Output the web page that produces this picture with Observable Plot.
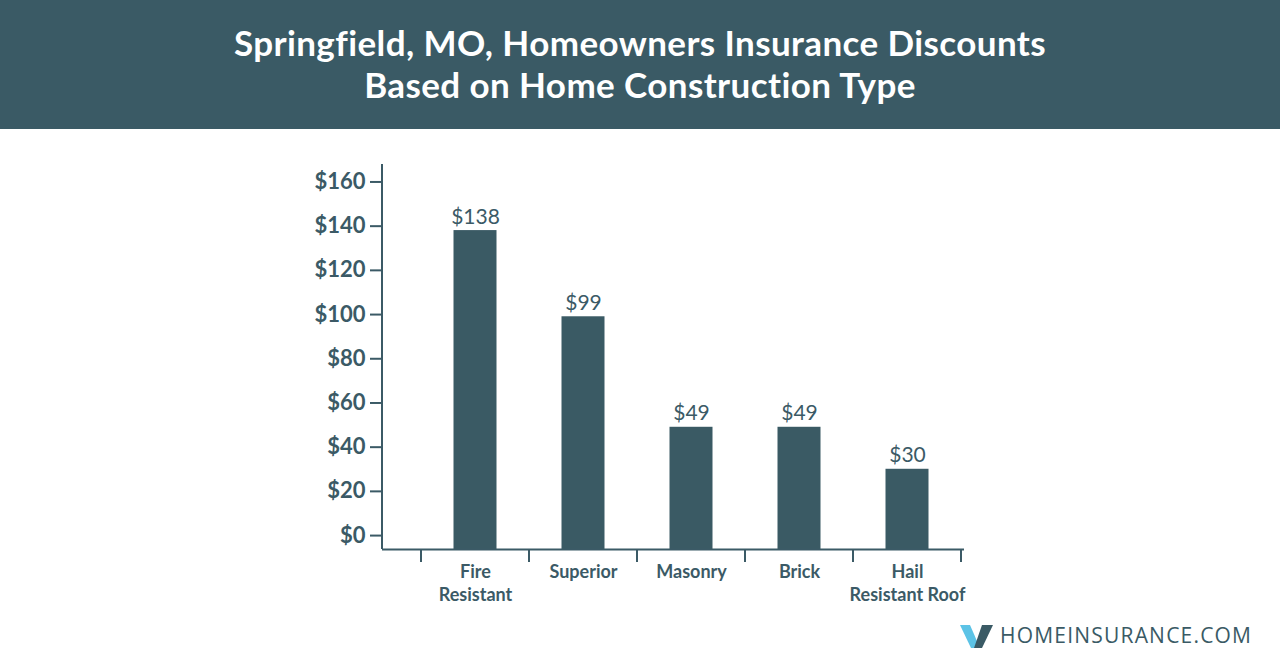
<!DOCTYPE html>
<html>
<head>
<meta charset="utf-8">
<script src="https://cdn.jsdelivr.net/npm/d3@7"></script>
<script src="https://cdn.jsdelivr.net/npm/@observablehq/plot@0.6"></script>
<style>
  html, body { margin: 0; padding: 0; background: #ffffff; width: 1280px; height: 671px; overflow: hidden; position: relative; }
  #header { position: absolute; left: 0; top: 0; width: 1280px; height: 129px; background: #3a5a65; }
  #title { position: absolute; left: 0; top: 21px; width: 1280px; text-align: center; color: #ffffff;
           font-family: Lato, sans-serif; font-weight: 700; font-size: 35px; letter-spacing: 0.4px; line-height: 42px; }
  #chart { position: absolute; left: 0; top: 129px; }
  #logo { position: absolute; left: 958px; top: 620px; height: 30px; width: 320px; }
  #logo svg { position: absolute; left: 0; top: 2px; }
  #logo span { position: absolute; left: 42px; top: 1px; font-family: "Open Sans", sans-serif; font-weight: 400;
               font-size: 21px; letter-spacing: 1.2px; color: #3a5a65; white-space: nowrap; }
</style>
</head>
<body>
<div id="header"><div id="title">Springfield, MO, Homeowners Insurance Discounts<br>Based on Home Construction Type</div></div>
<div id="chart"></div>
<div id="logo">
  <svg width="36" height="28" viewBox="0 0 36 28">
    <polygon points="2,3 12,3 22,26 13,26" fill="#5cc3e6"></polygon>
    <polygon points="24,3 35,3 24,26 16,26" fill="#3a5a65"></polygon>
  </svg>
  <span>HOMEINSURANCE.COM</span>
</div>
<script>
const categories = ["Fire Resistant", "Superior", "Masonry", "Brick", "Hail Resistant Roof"];
const tickLabels = ["Fire\nResistant", "Superior", "Masonry", "Brick", "Hail\nResistant Roof"];
const discounts = [138, 99, 49, 49, 30];
const yTicks = [0, 20, 40, 60, 80, 100, 120, 140, 160];

const data = categories.map((c, i) => ({category: c, value: discounts[i]}));
const labelOf = new Map(categories.map((c, i) => [c, tickLabels[i]]));

const ink = "#3b5a66";
const barColor = "#3a5a64";
const yMin = -6.3, yMax = 167.9;

const axisLines = (index, scales, values, dimensions) => {
  const {width, height, marginLeft, marginRight, marginTop, marginBottom} = dimensions;
  const g = d3.create("svg:g");
  const yBottom = height - marginBottom;
  g.append("line").attr("x1", marginLeft).attr("x2", marginLeft)
    .attr("y1", marginTop).attr("y2", yBottom)
    .attr("stroke", ink).attr("stroke-width", 2);
  const starts = categories.map(c => scales.x(c));
  const step = starts[1] - starts[0];
  const bounds = [...starts, starts[starts.length - 1] + step];
  for (const b of bounds) {
    g.append("line").attr("x1", b).attr("x2", b)
      .attr("y1", yBottom).attr("y2", yBottom + 13)
      .attr("stroke", ink).attr("stroke-width", 2);
  }
  return g.node();
};

const chart = Plot.plot({
  width: 1280,
  height: 490,
  marginLeft: 382,
  marginRight: 316,
  marginTop: 35,
  marginBottom: 70,
  style: {fontFamily: "Lato, sans-serif", color: ink, background: "transparent"},
  x: {domain: categories, range: [421, 961], padding: 0, label: null},
  y: {domain: [yMin, yMax], label: null},
  marks: [
    Plot.barY(data, {x: "category", y1: yMin, y2: "value", fill: barColor, insetLeft: 32.5, insetRight: 32.5}),
    Plot.text(data, {x: "category", y: "value", text: d => "$" + d.value, dy: -7, lineAnchor: "bottom",
                     fill: ink, fontSize: 21, fontWeight: 400}),
    Plot.ruleY([yMin], {stroke: ink, strokeWidth: 2}),
    Plot.axisY({ticks: yTicks, tickFormat: d => "$" + d, tickSize: 12, tickPadding: 5, stroke: ink, strokeWidth: 2,
                fill: ink, fontSize: 22, fontWeight: 700, label: null}),
    Plot.axisX({tickSize: 0, tickPadding: 12, tickFormat: d => labelOf.get(d), fill: ink, fontSize: 18,
                fontWeight: 700, lineHeight: 1.28, label: null}),
    axisLines
  ]
});
document.getElementById("chart").appendChild(chart);
</script>
</body>
</html>
